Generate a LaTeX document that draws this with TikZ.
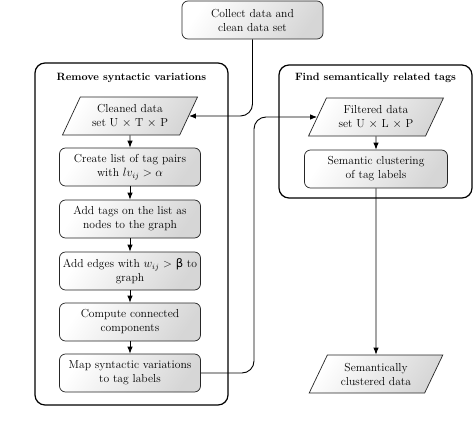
\documentclass[tikz,border=0pt]{standalone}
\usepackage{fontspec}
\newfontfamily\dv{DejaVu Sans}
\usetikzlibrary{shapes.geometric,arrows.meta}
\begin{document}
\begin{tikzpicture}[x=1pt,y=-1pt,
  txt/.style={font=\fontsize{11.6}{14}\selectfont, align=center, inner sep=1pt},
  shade/.style={top color=white, bottom color=black!16, shading angle=55},
  proc/.style={txt, shade, draw=black!85, line width=0.7pt, rounded corners=6pt, minimum width=141pt, minimum height=38pt},
  io/.style={txt, shade, draw=black!85, line width=0.7pt, trapezium, trapezium left angle=61, trapezium right angle=119, trapezium stretches=true, minimum width=135pt, minimum height=38pt},
  group/.style={draw=black, line width=1.2pt, rounded corners=10pt, fill=white},
  title/.style={font=\fontsize{10.6}{12}\selectfont\bfseries, inner sep=1pt},
  arr/.style={draw=black, line width=0.9pt, -{Latex[length=7pt,width=5.5pt]}},
]
\useasboundingbox (0,0) rectangle (474,428);
% containers
\node[group, minimum width=193pt, minimum height=342pt] (left) at (131.5,234) {};
\node[group, minimum width=193pt, minimum height=133pt] (right) at (375.5,131.5) {};
\node[title] (t1) at (131.5,78) {Remove syntactic variations};
\node[title] (t2) at (375.5,78) {Find semantically related tags};
% nodes
\node[proc] (collect) at (252.5,20) {Collect data and\\clean data set};
\node[io] (cleaned) at (130,116) {Cleaned data\\set U $\times$ T $\times$ P};
\node[proc] (create) at (130,167) {Create list of tag pairs\\with $lv_{ij} > \alpha$};
\node[proc] (addtags) at (130,219) {Add tags on the list as\\nodes to the graph};
\node[proc] (addedges) at (130,271) {Add edges with $w_{ij}$ > {\dv β} to\\graph};
\node[proc] (compute) at (130,322) {Compute connected\\components};
\node[proc] (map) at (130,373) {Map syntactic variations\\to tag labels};
\node[io] (filtered) at (376,117) {Filtered data\\set U $\times$ L $\times$ P};
\node[proc, minimum width=143pt] (semantic) at (376,169) {Semantic clustering\\of tag labels};
\node[io] (final) at (376,374) {Semantically\\clustered data};
\coordinate (jx) at (254,0);
% connectors
\draw[arr, rounded corners=12pt] (collect.south) |- (cleaned.east);
\draw[arr] (cleaned.south) -- (create.north);
\draw[arr] (create.south) -- (addtags.north);
\draw[arr] (addtags.south) -- (addedges.north);
\draw[arr] (addedges.south) -- (compute.north);
\draw[arr] (compute.south) -- (map.north);
\draw[arr, rounded corners=12pt] (map.east) -- (map.east -| jx) |- (filtered.west);
\draw[arr] (filtered.south) -- (semantic.north);
\draw[arr] (semantic.south) -- (final.north);
\end{tikzpicture}
\end{document}
